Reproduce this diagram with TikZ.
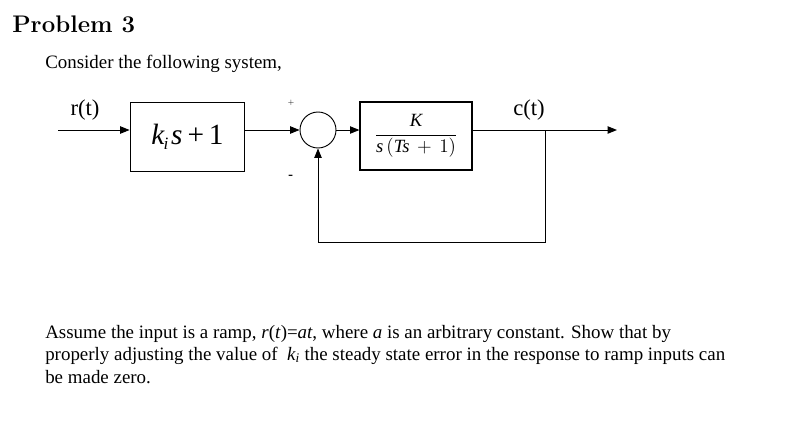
\documentclass[tikz,border=0pt]{standalone}
\usepackage{fontspec}
\newfontfamily\tnr{Liberation Serif}
\usetikzlibrary{arrows.meta}
\begin{document}
\begin{tikzpicture}[x=0.75pt,y=-0.75pt,
  blk/.style={draw,line width=0.9pt,inner sep=0},
  ln/.style={line width=0.7pt},
  ar/.style={ln,-{Triangle[length=7pt,width=5.5pt]}},
  txt/.style={anchor=base west,inner sep=0,font=\tnr\fontsize{14.2}{17}\selectfont}]
\useasboundingbox (0,0) rectangle (793,422);
\node[anchor=base west,inner sep=0,font=\bfseries\fontsize{18}{22}\selectfont] (title) at (12,32) {Problem 3};
\node[txt] (cons) at (45,68) {Consider the following system,};
\node[blk,minimum width=86pt,minimum height=52pt] (b1) at (187.5,137) {\tnr\fontsize{22}{26}\selectfont\itshape k\kern-0.5pt\raisebox{-4pt}{\fontsize{13}{15}\selectfont i}\kern2pt s\upshape\,+\,1};
\node[blk,minimum width=84pt,minimum height=51pt] (b2) at (416,136) {\tnr\fontsize{14}{16}\selectfont$\displaystyle\frac{\textit{K}}{\textit{s}\,(\textit{Ts}\,+\,1)}$};
\node[draw,circle,minimum size=27pt,inner sep=0,ln] (sum) at (318,130) {};
\coordinate (in) at (58,130);
\coordinate (out) at (617,130);
\coordinate (br) at (545,130);
\coordinate (c1) at (545,242);
\coordinate (c2) at (318,242);
\node[font=\tnr\fontsize{17}{19}\selectfont] (r) at (85,110) {r(t)};
\node[font=\tnr\fontsize{17}{19}\selectfont] (c) at (529,110) {c(t)};
\node[font=\tiny] (p) at (291,103) {+};
\node[font=\small\bfseries] (m) at (291,177) {-};
\draw[ar] (in) -- (in -| b1.west);
\draw[ar] (b1.east |- sum) -- (sum.west);
\draw[ar] (sum.east) -- (b2.west |- sum);
\draw[ar] (b2.east |- sum) -- (out);
\draw[ar] (br) -- (c1) -- (c2) -- (sum.south);
\node[txt] (t1) at (45,338) {Assume the input is a ramp, \textit{r}(\textit{t})=\textit{at}, where \textit{a} is an arbitrary constant. Show that by};
\node[txt] (t2) at (45,360) {properly adjusting the value of \ \textit{k\textsubscript{i}} the steady state error in the response to ramp inputs can};
\node[txt] (t3) at (45,383) {be made zero.};
\end{tikzpicture}
\end{document}
